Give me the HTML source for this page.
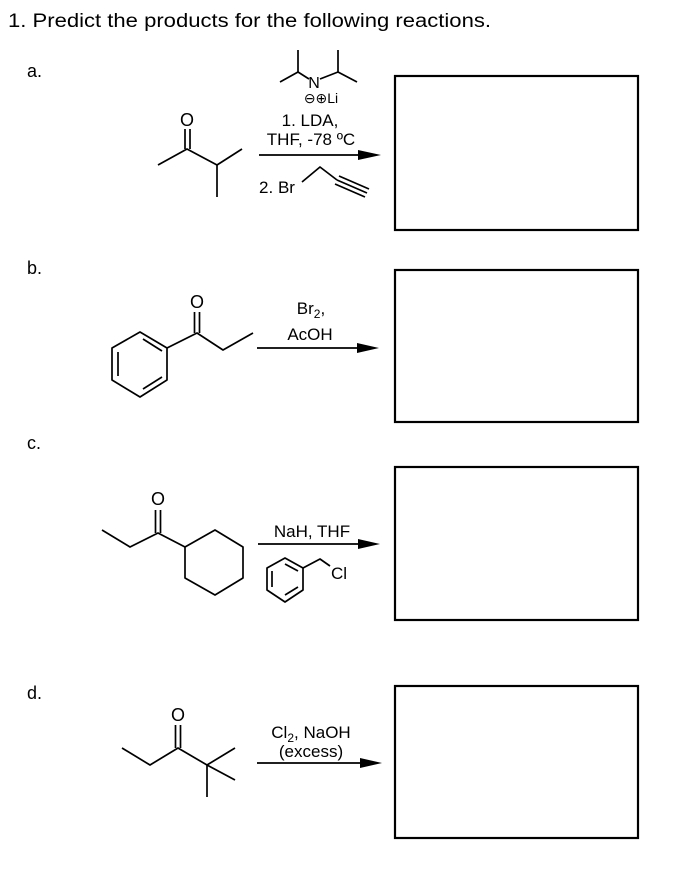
<!DOCTYPE html>
<html><head><meta charset="utf-8"><style>
html,body{margin:0;padding:0;background:#fff;}
svg{display:block;}
text{font-family:"Liberation Sans",Arial,sans-serif;fill:#000;}
</style></head><body>
<svg width="700" height="892" viewBox="0 0 700 892" xmlns="http://www.w3.org/2000/svg">
<text x="8" y="27" font-size="19" textLength="483" lengthAdjust="spacingAndGlyphs">1.  Predict the products for the following reactions.</text>
<text x="27" y="77" font-size="18">a.</text>
<text x="27" y="274" font-size="18">b.</text>
<text x="27" y="449" font-size="18">c.</text>
<text x="27" y="699" font-size="18">d.</text>

<g fill="none" stroke="#000" stroke-width="2.2">
<rect x="395" y="76" width="243" height="154"/>
<rect x="395" y="270" width="243" height="152"/>
<rect x="395" y="467" width="243" height="153"/>
<rect x="395" y="686" width="243" height="152"/>
</g>

<g fill="none" stroke="#000" stroke-width="1.7" stroke-linejoin="round">
<polyline points="158,165 187,149 217,165 242,149"/>
<line x1="217" y1="165" x2="217" y2="197"/>
<line x1="185" y1="149" x2="185" y2="129"/>
<line x1="190" y1="149" x2="190" y2="129"/>
<polyline points="280,82 298,72 309,79"/>
<line x1="298" y1="72" x2="298" y2="50"/>
<polyline points="320,79 338,72 357,82"/>
<line x1="338" y1="72" x2="338" y2="50"/>
<line x1="259" y1="155" x2="365" y2="155"/>
<polyline points="302,182 320,167 337,180"/>
<line x1="337" y1="180" x2="367" y2="193"/>
<line x1="339" y1="176" x2="369" y2="189"/>
<line x1="335" y1="184" x2="365" y2="197"/>

<polygon points="140,332 167,348 167,380 140,397 112,380 112,348"/>
<line x1="143" y1="339" x2="162" y2="351"/>
<line x1="162" y1="377" x2="143" y2="389"/>
<line x1="118" y1="352" x2="118" y2="376"/>
<polyline points="167,348 197,333 223,350 253,333"/>
<line x1="194.5" y1="333" x2="194.5" y2="312"/>
<line x1="199.5" y1="333" x2="199.5" y2="312"/>
<line x1="257" y1="348" x2="365" y2="348"/>

<polyline points="102,530 130,547 158,533 185,547"/>
<line x1="155.5" y1="533" x2="155.5" y2="510"/>
<line x1="160.5" y1="533" x2="160.5" y2="510"/>
<polygon points="185,547 215,530 243,547 243,578 215,595 185,578"/>
<line x1="258" y1="544" x2="365" y2="544"/>
<polygon points="285,558 303,568 303,590 285,602 267,590 267,568"/>
<line x1="285" y1="564" x2="298" y2="571"/>
<line x1="298" y1="587" x2="285" y2="595"/>
<line x1="272" y1="571" x2="272" y2="587"/>
<polyline points="303,568 320,559 330,566"/>

<polyline points="122,748 150,765 178,748 207,765 235,748"/>
<line x1="207" y1="765" x2="235" y2="780"/>
<line x1="207" y1="765" x2="207" y2="797"/>
<line x1="175.5" y1="748" x2="175.5" y2="725"/>
<line x1="180.5" y1="748" x2="180.5" y2="725"/>
<line x1="257" y1="763" x2="365" y2="763"/>
</g>

<g fill="#000">
<polygon points="381,155 358,150 358,160"/>
<polygon points="379,348 357,343 357,353"/>
<polygon points="380,544 358,539 358,549"/>
<polygon points="382,763 360,758 360,768"/>
</g>

<g font-size="17" text-anchor="middle">
<text x="187" y="126" font-size="18">O</text>
<text x="314" y="88" font-size="16">N</text>
<text x="321" y="103" font-size="14">⊖⊕Li</text>
<text x="310" y="126">1. LDA,</text>
<text x="311" y="145">THF, -78 ºC</text>
<text x="277" y="193">2. Br</text>
<text x="197" y="308" font-size="18">O</text>
<text x="311" y="314">Br<tspan font-size="12" dy="4">2</tspan><tspan dy="-4">,</tspan></text>
<text x="310" y="340">AcOH</text>
<text x="158" y="505" font-size="18">O</text>
<text x="312" y="537">NaH, THF</text>
<text x="339" y="579">Cl</text>
<text x="178" y="721" font-size="18">O</text>
<text x="311" y="738">Cl<tspan font-size="12" dy="4">2</tspan><tspan dy="-4">, NaOH</tspan></text>
<text x="311" y="757">(excess)</text>
</g>
</svg>
</body></html>
